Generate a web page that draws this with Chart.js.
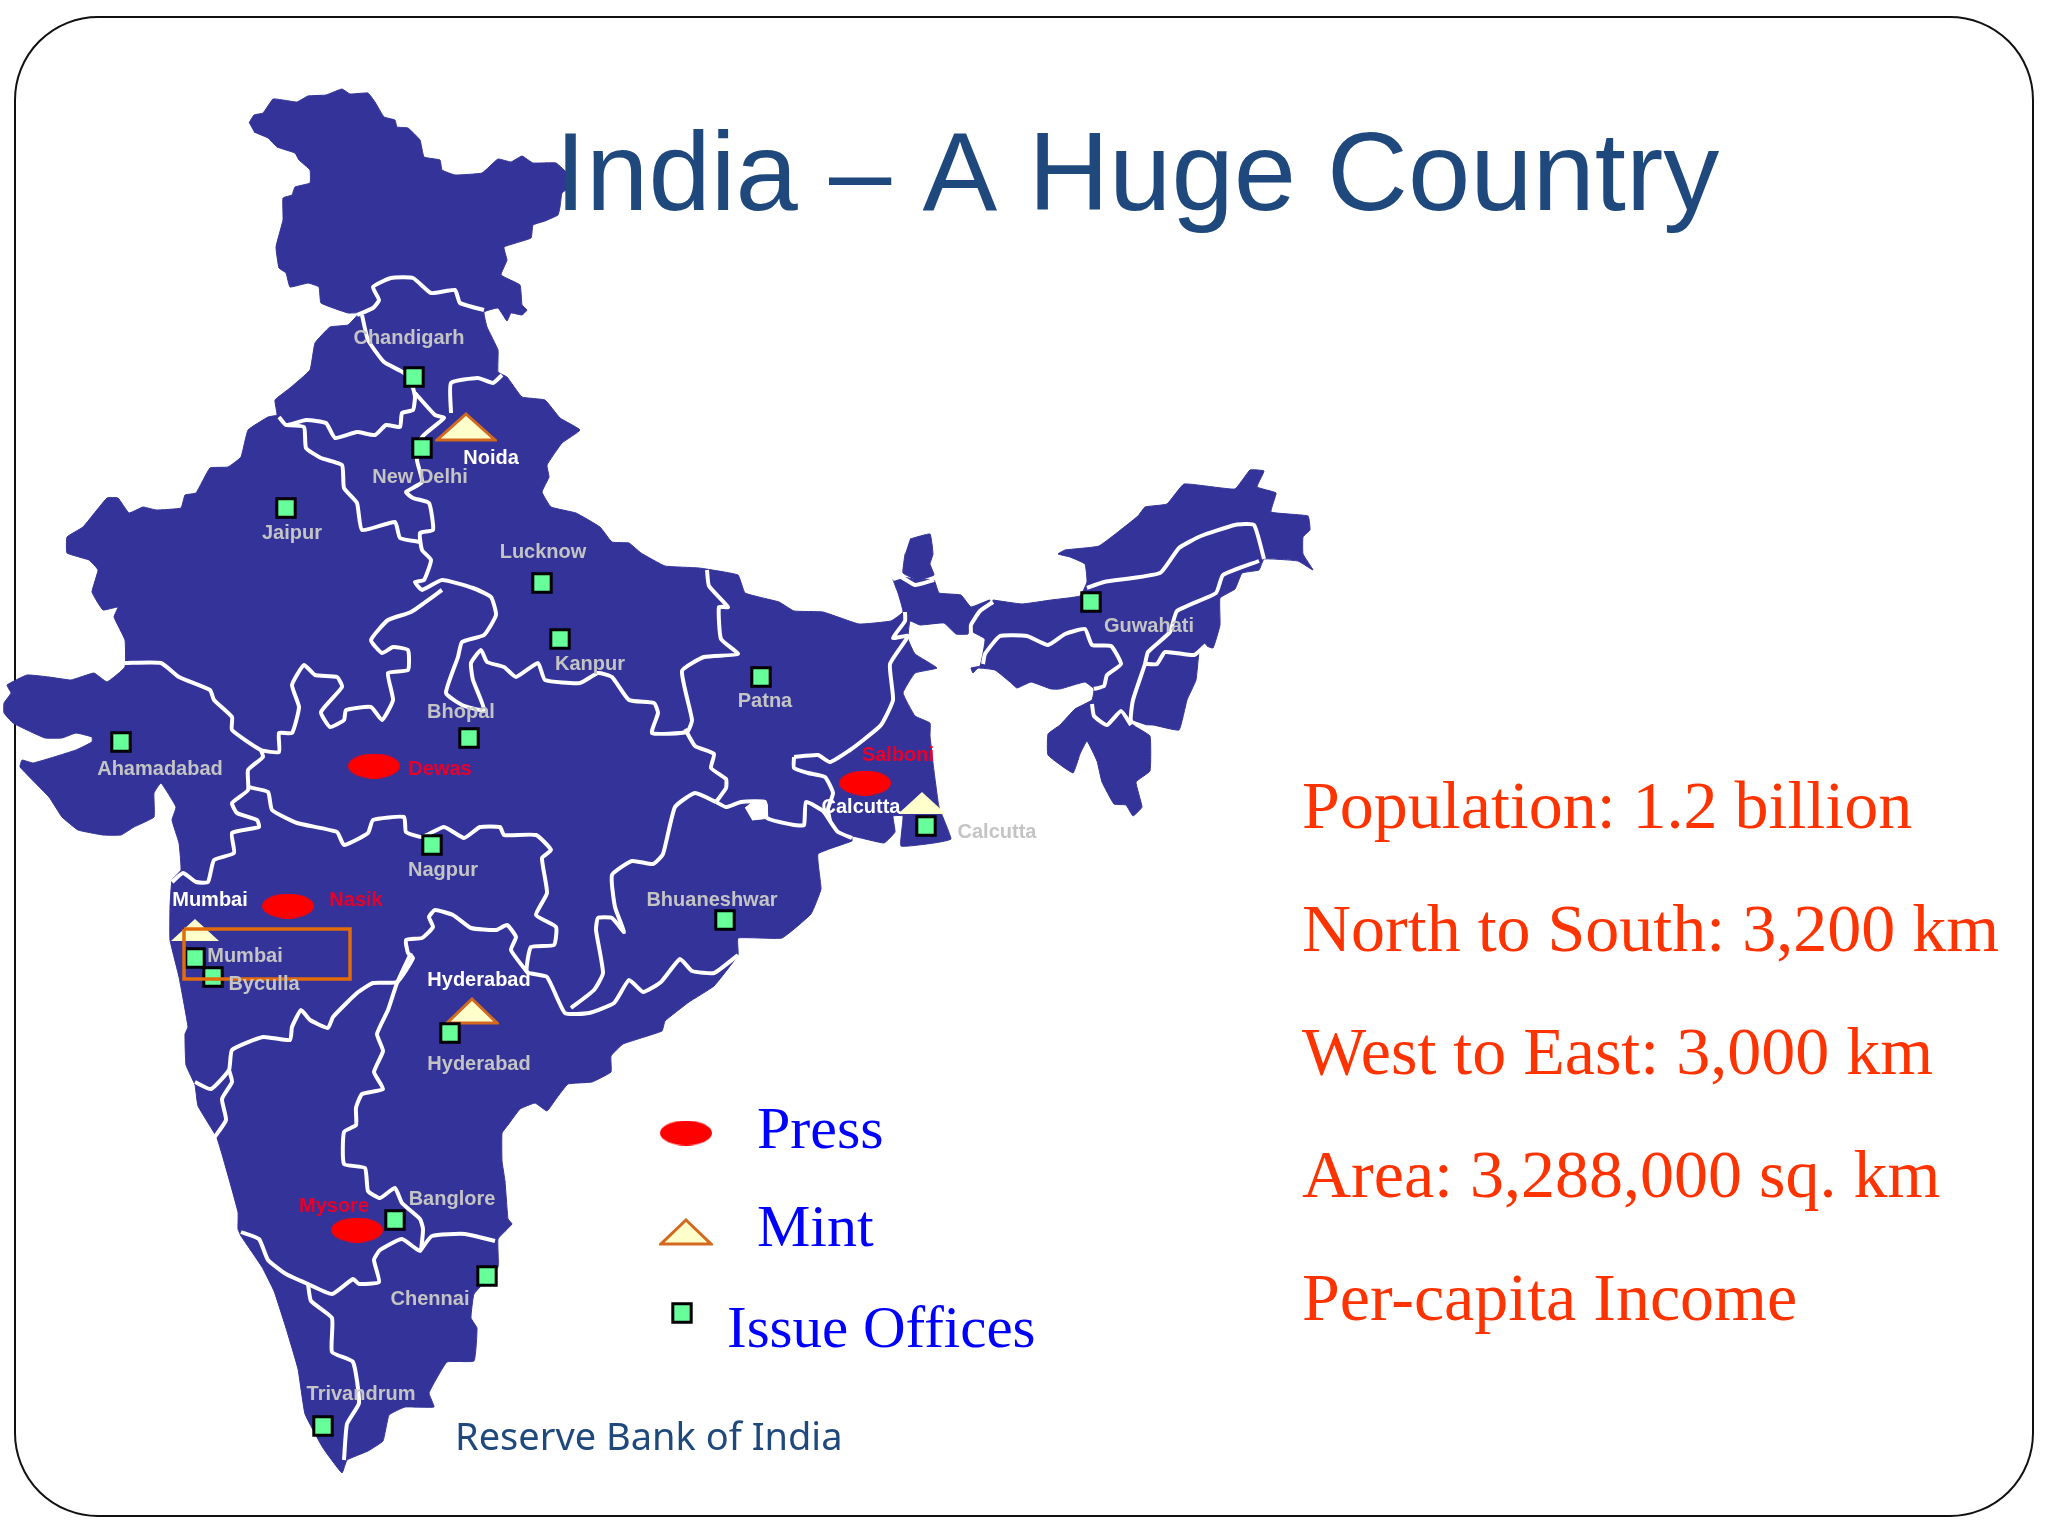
<!DOCTYPE html>
<html>
<head>
<meta charset="utf-8">
<title>India - A Huge Country</title>
<script src="https://cdn.jsdelivr.net/npm/chart.js@4"></script>
<style>
  html, body { margin: 0; padding: 0; background: #fff; }
  #slide { position: relative; width: 2048px; height: 1536px; overflow: hidden; }
  #frame { position: absolute; left: 14px; top: 16px; width: 2016px; height: 1497px; border: 2px solid #111; border-radius: 84px; }
  #map { position: absolute; left: 0; top: 0; }
</style>
</head>
<body>
<div id="slide">
  <div id="frame"></div>
  <canvas id="map" width="2048" height="1536"></canvas>
</div>
<script>
// map outlines, in slide pixels
const mainland = [
  [249,123],[254,115],[263,113],[273,99],[283,100],[297,102],[308,96],[326,95],[342,89],[350,94],[368,93],[375,102],
  [384,117],[395,120],[397,127],[408,128],[420,140],[424,157],[440,160],[442,170],[455,175],[482,173],[498,159],[511,162],
  [522,156],[533,163],[556,163],[569,175],[571,186],[562,193],[560,207],[558,215],[545,221],[533,225],[531,238],[504,247],
  [507,260],[501,275],[520,285],[522,305],[527,310],[522,315],[511,313],[507,321],[498,308],[484,312],[487,327],[498,350],
  [498,372],[507,377],[522,397],[545,400],[560,418],[580,430],[562,443],[547,465],[549,477],[542,492],[551,507],[576,513],
  [600,527],[612,542],[629,543],[641,553],[665,566],[699,568],[738,575],[745,593],[779,602],[794,611],[823,612],[859,624],
  [891,621],[903,612],[898,593],[893,579],[901,577],[915,579],[934,580],[939,593],[961,595],[971,607],[990,600],[983,614],
  [971,625],[968,634],[956,634],[944,623],[920,625],[910,621],[908,639],[915,654],[937,668],[915,673],[903,693],[915,716],
  [930,723],[930,736],[934,771],[939,807],[951,839],[934,843],[901,846],[903,816],[893,816],[895,832],[884,843],[852,836],
  [852,841],[818,854],[821,889],[811,914],[782,938],[738,938],[738,955],[714,986],[689,1002],[665,1021],[662,1031],[623,1044],
  [611,1056],[611,1072],[592,1082],[568,1084],[556,1099],[547,1111],[535,1103],[520,1109],[508,1125],[502,1133],[502,1161],[505,1181],
  [508,1219],[512,1224],[498,1239],[498,1267],[474,1294],[471,1318],[477,1328],[474,1361],[447,1362],[429,1393],[434,1407],[405,1407],
  [389,1415],[383,1441],[368,1451],[347,1460],[342,1473],[323,1448],[305,1414],[298,1369],[286,1328],[274,1291],[262,1267],[241,1236],
  [238,1229],[238,1212],[217,1138],[198,1106],[195,1085],[186,1065],[185,1034],[188,1027],[179,977],[170,940],[170,907],[172,880],
  [181,870],[179,843],[172,820],[176,807],[161,783],[154,793],[154,817],[134,827],[121,835],[103,835],[78,830],[62,817],
  [49,797],[20,767],[22,760],[33,763],[54,757],[76,750],[92,742],[92,737],[76,733],[62,738],[45,738],[27,730],
  [13,723],[4,713],[4,703],[11,693],[7,685],[27,675],[49,677],[71,680],[94,673],[107,682],[125,667],[125,640],
  [114,617],[118,607],[103,610],[92,592],[98,570],[89,560],[67,553],[67,537],[83,527],[107,498],[118,498],[129,513],
  [143,507],[156,510],[181,508],[185,495],[196,493],[210,468],[228,467],[241,457],[248,430],[268,417],[277,415],[275,400],
  [290,388],[310,370],[315,343],[330,327],[348,325],[359,313],[348,313],[321,303],[319,287],[308,283],[290,287],[286,273],
  [279,268],[276,247],[283,220],[283,198],[292,195],[295,187],[310,183],[310,170],[299,160],[295,153],[277,147],[268,138],[254,132]
];
const sikkim = [[910,539],[930,534],[933,554],[930,564],[934,575],[918,580],[903,573],[905,554]];
const northeast = [
  [993,600],[1022,604],[1051,600],[1080,596],[1087,582],[1085,564],[1070,557],[1058,554],[1065,550],[1099,546],[1138,516],[1145,507],
  [1167,504],[1184,484],[1235,489],[1250,470],[1264,471],[1257,487],[1276,493],[1271,512],[1308,516],[1310,530],[1303,537],[1303,554],
  [1313,570],[1298,561],[1264,559],[1259,570],[1242,573],[1235,589],[1220,598],[1220,625],[1213,648],[1203,645],[1199,652],[1196,680],
  [1187,700],[1179,730],[1153,725],[1133,725],[1150,736],[1150,771],[1136,782],[1142,807],[1133,816],[1126,805],[1114,804],[1102,782],
  [1097,761],[1087,741],[1080,754],[1073,773],[1048,755],[1048,734],[1060,725],[1075,709],[1092,700],[1094,689],[1085,682],[1060,689],
  [1051,689],[1031,682],[1017,688],[1010,682],[995,670],[978,668],[973,673],[971,668],[980,666],[985,639],[968,629],[983,609]
];
const lake = [[745,808],[753,802],[767,804],[767,818],[752,820]];

// state borders
const borderLines = [
  [[357,315],[373,308],[379,300],[373,287],[391,278],[413,278],[431,293],[455,290],[460,303],[484,310]],
  [[362,315],[368,340],[384,362],[404,373],[413,388],[415,397],[413,410],[402,413],[400,427],[386,425],[375,435],[357,432],[335,438],[326,423],[306,420],[286,425],[279,417]],
  [[415,393],[435,415],[444,418],[422,437],[417,460],[422,482],[406,492],[413,498],[429,503],[433,530],[420,533],[422,550],[431,560],[424,580],[415,582],[422,590],[442,580],[473,588],[491,597],[496,615],[484,635],[462,642],[458,657],[446,693],[462,705],[484,710],[473,680],[471,663],[481,650],[487,662],[504,667],[516,677],[538,663],[545,680],[580,683],[598,673],[612,677],[629,700],[654,703],[658,713],[652,733],[687,732],[692,720],[682,671],[704,657],[738,654],[721,639],[719,607],[728,607],[709,586],[707,570]],
  [[451,413],[451,383],[478,378],[493,383],[502,375]],
  [[286,425],[304,427],[306,448],[321,458],[342,465],[344,488],[357,503],[362,530],[395,522],[400,538],[420,542]],
  [[125,663],[161,663],[179,677],[210,690],[214,700],[232,717],[232,730],[261,750],[279,752],[279,733],[292,733],[299,707],[292,685],[304,665],[315,675],[337,677],[342,687],[321,712],[330,727],[344,720],[346,710],[371,707],[382,720],[393,700],[388,673],[408,670],[408,650],[393,647],[382,653],[371,640],[388,620],[411,612],[442,590]],
  [[261,750],[263,757],[248,770],[248,790],[232,803],[237,813],[257,820],[259,827],[232,833],[234,853],[214,860],[208,882],[196,882],[183,873],[172,882]],
  [[248,787],[268,792],[272,810],[297,823],[337,832],[344,845],[368,833],[373,820],[404,817],[406,832],[422,837],[444,827],[464,838],[480,827],[500,827],[504,835],[536,835],[551,850],[542,858],[547,893],[536,915],[556,927],[554,945],[531,947],[527,972],[547,977],[565,1013],[589,1013],[614,1003],[629,980],[643,992],[661,982],[680,959],[692,971],[714,973],[738,955]],
  [[716,802],[695,793],[675,807],[663,854],[653,864],[632,861],[612,875],[615,907],[624,932],[612,918],[598,918],[596,930],[603,973],[594,990],[571,1008]],
  [[716,802],[726,788],[726,779],[711,768],[714,754],[695,746],[685,729]],
  [[716,802],[726,807],[741,802],[765,802],[767,818],[794,825],[804,825],[806,802],[823,811],[830,821],[838,832],[852,838]],
  [[794,757],[818,755],[830,762],[850,750],[862,741],[881,725],[893,700],[890,664],[908,636],[893,638],[905,621],[905,612]],
  [[794,757],[794,768],[808,773],[825,777],[833,793],[828,809],[830,821]],
  [[527,972],[511,950],[516,937],[507,925],[496,930],[471,928],[453,915],[435,910],[429,917],[433,927],[422,938],[406,940],[408,953],[413,958],[397,982],[373,983],[357,993],[333,1017],[328,1028],[310,1020],[301,1010],[292,1027],[290,1040],[263,1037],[232,1050],[229,1070],[211,1089],[195,1082]],
  [[229,1070],[232,1082],[222,1099],[226,1120],[214,1138]],
  [[411,953],[397,983],[388,1010],[377,1034],[383,1051],[374,1072],[383,1089],[362,1094],[356,1108],[356,1125],[344,1132],[344,1164],[365,1168],[368,1191],[380,1198],[395,1188],[402,1203],[420,1219],[423,1229],[420,1251],[402,1239],[380,1250],[374,1260],[379,1282],[359,1284],[353,1279],[332,1294],[308,1284],[286,1274],[268,1260],[259,1239],[241,1232]],
  [[420,1251],[432,1236],[465,1234],[495,1241]],
  [[308,1284],[311,1301],[332,1318],[332,1352],[353,1362],[359,1403],[347,1424],[344,1460]],
  [[1087,588],[1104,582],[1160,573],[1179,548],[1201,536],[1235,525],[1254,525],[1264,559]],
  [[1259,561],[1223,575],[1216,593],[1177,611],[1170,632],[1148,652],[1145,664],[1133,700],[1131,721],[1145,727]],
  [[1145,664],[1157,664],[1165,652],[1194,655],[1206,645]],
  [[983,664],[985,654],[1000,636],[1027,636],[1048,645],[1065,634],[1085,629],[1092,645],[1111,646],[1121,664],[1107,675],[1104,686],[1094,689]],
  [[1092,704],[1094,716],[1107,725],[1121,711],[1131,725]],
  [[993,602],[980,611],[971,625],[971,634]],
  [[893,579],[901,577],[915,585],[934,580]]
];

const issueOffices = [
  [414,377],[422,448],[286,508],[542,583],[560,639],[469,738],[121,742],[432,845],[195,958],[213,977],
  [450,1033],[395,1220],[487,1276],[323,1426],[761,677],[725,920],[926,826],[1091,602],[682,1313]
];
const presses = [[374,766],[288,906],[865,783],[357,1230],[686,1133]];
const noidaMint = [[466,427]];
const mints = [[472,1011],[686,1232]];
const fadedMints = [[195,930],[922,803]];
const mumbaiBox = [[184,929],[350,929],[350,979],[184,979],[184,929]];

const greyLabels = [
  ['Chandigarh',409,338],['New Delhi',420,477],['Jaipur',292,533],['Lucknow',543,552],['Kanpur',590,664],
  ['Bhopal',461,712],['Ahamadabad',160,769],['Nagpur',443,870],['Mumbai',245,956],['Byculla',264,984],
  ['Hyderabad',479,1064],['Bhuaneshwar',712,900],['Patna',765,701],['Calcutta',997,832],['Guwahati',1149,626],
  ['Banglore',452,1199],['Chennai',430,1299],['Trivandrum',361,1394]
];
const whiteLabels = [['Noida',491,458],['Mumbai',210,900],['Hyderabad',479,980],['Calcutta',861,807]];
const redLabels = [['Dewas',440,769],['Nasik',356,900],['Salboni',898,755],['Mysore',334,1206]];
const factLines = [
  ['Population: 1.2 billion',1302,828],['North to South: 3,200 km',1302,951],['West to East: 3,000 km',1302,1074],
  ['Area: 3,288,000 sq. km',1302,1197],['Per-capita Income',1302,1320]
];
const legendLines = [['Press',757,1148],['Mint',757,1246],['Issue Offices',727,1347]];

const toPoints = list => list.map(([x, y]) => ({ x, y }));

function markerCanvas(w, h, paint) {
  const c = document.createElement('canvas');
  c.width = w;
  c.height = h;
  paint(c.getContext('2d'));
  return c;
}

const pressMark = markerCanvas(52, 25, ctx => {
  ctx.fillStyle = '#ff0000';
  ctx.beginPath();
  ctx.ellipse(26, 12.5, 26, 12.5, 0, 0, Math.PI * 2);
  ctx.fill();
});

function triangleMark(w, h, outline) {
  return markerCanvas(w, h, ctx => {
    ctx.beginPath();
    ctx.moveTo(w / 2, 2);
    ctx.lineTo(w - 2, h - 2);
    ctx.lineTo(2, h - 2);
    ctx.closePath();
    ctx.fillStyle = '#ffffcc';
    ctx.fill();
    if (outline) {
      ctx.strokeStyle = '#d2691e';
      ctx.lineWidth = 3;
      ctx.lineJoin = 'miter';
      ctx.stroke();
    }
  });
}

function areaSet(list, color) {
  return {
    data: toPoints(list), showLine: true, fill: 'shape', backgroundColor: color,
    borderColor: color, borderWidth: 1, pointRadius: 0, tension: 0.1
  };
}

function lineSet(list, color, width, tension) {
  return {
    data: toPoints(list), showLine: true, fill: false, borderColor: color,
    borderWidth: width, pointRadius: 0, tension
  };
}

function markSet(list, style, extra) {
  return { data: toPoints(list), showLine: false, pointStyle: style, pointRadius: 13, ...extra };
}

// chart.js paints the first dataset last, so list in paint order and flip
const paintOrder = [
  areaSet(mainland, '#333399'),
  areaSet(sikkim, '#333399'),
  areaSet(northeast, '#333399'),
  areaSet(lake, '#ffffff'),
  ...borderLines.map(line => lineSet(line, '#ffffff', 4, 0.15)),
  markSet(fadedMints, triangleMark(52, 26, false), {}),
  markSet(noidaMint, triangleMark(62, 30, true), {}),
  markSet(mints, triangleMark(54, 28, true), {}),
  markSet(presses, pressMark, {}),
  markSet(issueOffices, 'rect', { backgroundColor: '#66ff99', borderColor: '#000000', borderWidth: 3 }),
  lineSet(mumbaiBox, '#e36c0a', 3.5, 0)
];

const slideText = {
  id: 'slideText',
  afterDatasetsDraw(chart) {
    const { ctx, scales } = chart;
    const put = (rows, font, color, align) => {
      ctx.font = font;
      ctx.fillStyle = color;
      ctx.textAlign = align;
      rows.forEach(([text, x, y]) => {
        ctx.fillText(text, scales.x.getPixelForValue(x), scales.y.getPixelForValue(y));
      });
    };
    ctx.save();
    ctx.textBaseline = 'middle';
    put(greyLabels, 'bold 20px "Liberation Sans"', '#c4c4c4', 'center');
    put(whiteLabels, 'bold 20px "Liberation Sans"', '#ffffff', 'center');
    put(redLabels, 'bold 20px "Liberation Sans"', '#e8002a', 'center');
    ctx.textBaseline = 'alphabetic';
    put(factLines, '68px "Liberation Serif"', '#ff3300', 'left');
    put(legendLines.slice(0, 2), '60px "Liberation Serif"', '#0000ff', 'left');
    put(legendLines.slice(2), '59px "Liberation Serif"', '#0000ff', 'left');
    put([['India \u2013 A Huge Country', 555, 210]], '112px "Liberation Sans"', '#1f497d', 'left');
    put([['Reserve Bank of India', 455, 1450]], '38px "Noto Sans"', '#1f497d', 'left');
    ctx.restore();
  }
};

new Chart(document.getElementById('map'), {
  type: 'scatter',
  data: { datasets: paintOrder.slice().reverse() },
  options: {
    responsive: false,
    animation: false,
    devicePixelRatio: 1,
    layout: { padding: 0, autoPadding: false },
    plugins: { legend: { display: false }, tooltip: { enabled: false } },
    scales: {
      x: { type: 'linear', display: false, min: 0, max: 2048 },
      y: { type: 'linear', display: false, min: 0, max: 1536, reverse: true }
    }
  },
  plugins: [slideText]
});
</script>
</body>
</html>
